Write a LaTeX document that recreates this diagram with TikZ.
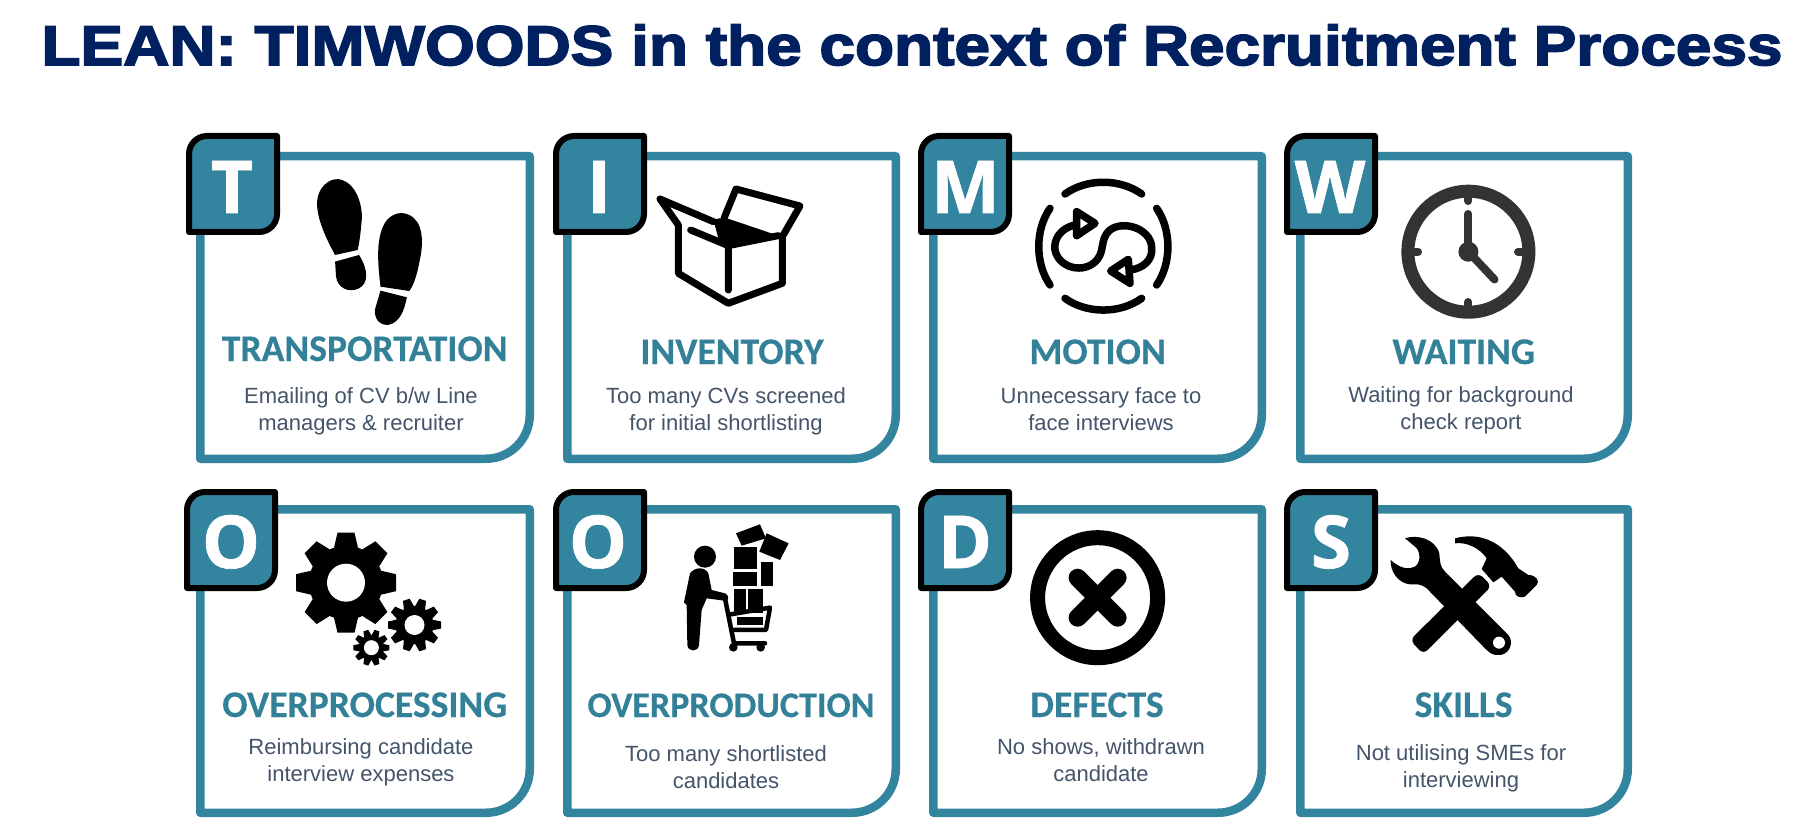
\documentclass[tikz,border=0pt]{standalone}
\usepackage{fontspec}
\setmainfont{Liberation Sans}
\newfontfamily\titlefont[FakeStretch=1.142,FakeBold=3]{Liberation Sans}
\newfontfamily\headfont[FakeBold=0.4]{Carlito}
\newfontfamily\letterfont[FakeBold=1]{Open Sans}
\definecolor{teal1}{HTML}{33849F}
\definecolor{headc}{HTML}{338199}
\definecolor{descc}{HTML}{44546A}
\definecolor{navy}{HTML}{002060}
\definecolor{clockc}{HTML}{333333}
\tikzset{
  cardline/.style={draw=teal1,line width=8.5pt,fill=white,line join=round},
  badgebox/.style={draw=black,line width=6pt,fill=teal1,line join=round},
  letterlab/.style={anchor=base,text=white,inner sep=0pt,font=\letterfont\bfseries\fontsize{73}{73}\selectfont},
  headlab/.style={anchor=base,text=headc,inner sep=0pt,font=\headfont\bfseries\fontsize{37.6}{37.6}\selectfont},
  desclab/.style={anchor=base,text=descc,inner sep=0pt,align=center,font=\fontsize{22}{27}\selectfont},
  ink/.style={fill=black,draw=none},
  inkline/.style={draw=black,line cap=round,line join=round,fill=none},
  zoomA/.style={shift={(170,120)},xscale=0.4785,yscale=0.3333},
  zoomU/.style={scale=0.3333},
}
% #1 left, #2 top, #3 right, #4 bottom (outer edges of the card), #5 badge left, #6 badge top
\newcommand\cardframe[6]{%
  \draw[cardline] (#1+4.25,#2+4.25) -- (#3-4.25,#2+4.25) -- (#3-4.25,#4-48) arc[start angle=0,end angle=90,radius=43.75] -- (#1+4.25,#4-4.25) -- cycle;
  \draw[badgebox] (#5+3,#6+21) arc[start angle=180,end angle=270,radius=18] -- (#5+91,#6+3) -- (#5+91,#6+81) arc[start angle=0,end angle=90,radius=18] -- (#5+3,#6+99) -- cycle;
}
% gear: cx, cy, root radius, outer radius, hole, teeth, tooth half width at tip, at root
\newcommand\gearicon[8]{%
  \fill[black] (#1,#2) circle[radius=#3];
  \pgfmathsetmacro\gstep{360/#6}
  \foreach \k in {1,...,#6}{
    \fill[black,shift={(#1,#2)},rotate=\k*\gstep] (#3-2,-#8) -- (#4,-#7) -- (#4,#7) -- (#3-2,#8) -- cycle;
  }
  \fill[white] (#1,#2) circle[radius=#5];
}
\begin{document}
\begin{tikzpicture}[x=1pt,y=-1pt]
\useasboundingbox (0,0) rectangle (1813,837);
\fill[white] (0,0) rectangle (1813,837);

\node[anchor=base,inner sep=0pt,text=navy] (title) at (912,65)
  {\titlefont\bfseries\fontsize{56}{56}\selectfont LEAN: TIMWOODS in the context of Recruitment Process};

% row 1
\cardframe{196}{152}{534}{463}{186}{133}
\cardframe{563}{152}{900}{463}{553}{133}
\cardframe{929}{152}{1266}{463}{918}{133}
\cardframe{1296}{152}{1632}{463}{1284}{133}
% row 2
\cardframe{196}{505}{534}{817}{184}{489}
\cardframe{563}{505}{900}{817}{553}{489}
\cardframe{929}{505}{1266}{817}{918}{489}
\cardframe{1296}{505}{1632}{817}{1284}{489}

% letters
\node[letterlab] (lt) at (232,213) {T};
\node[letterlab] (li) at (599,213) {I};
\node[letterlab] (lm) at (965.5,213) {M};
\node[letterlab] (lw) at (1330,213) {W};
\node[letterlab] (lo) at (231,568) {O};
\node[letterlab] (lp) at (598,568) {O};
\node[letterlab] (ld) at (965,568) {D};
\node[letterlab] (ls) at (1331,568) {S};

% headings
\node[headlab] (ht) at (364.7,361) {TRANSPORTATION};
\node[headlab] (hi) at (732,364) {INVENTORY};
\node[headlab] (hm) at (1097.6,364) {MOTION};
\node[headlab] (hw) at (1463.6,364) {WAITING};
\node[headlab] (ho) at (364.7,717) {OVERPROCESSING};
\node[headlab,font=\headfont\bfseries\fontsize{36}{36}\selectfont] (hp) at (731,717) {OVERPRODUCTION};
\node[headlab] (hd) at (1097,717) {DEFECTS};
\node[headlab] (hs) at (1463.6,717) {SKILLS};

% descriptions (the point given is the baseline of the last line)
\node[desclab] (dt) at (361,430) {Emailing of CV b/w Line\\managers \& recruiter};
\node[desclab] (di) at (726,430) {Too many CVs screened\\for initial shortlisting};
\node[desclab] (dm) at (1101,430) {Unnecessary face to\\face interviews};
\node[desclab] (dw) at (1461,429) {Waiting for background\\check report};
\node[desclab] (do) at (361,781) {Reimbursing candidate\\interview expenses};
\node[desclab] (dp) at (726,788) {Too many shortlisted\\candidates};
\node[desclab] (dd) at (1101,781) {No shows, withdrawn\\candidate};
\node[desclab] (ds) at (1461,787) {Not utilising SMEs for\\interviewing};

% footprints
\begin{scope}[zoomA]
  \fill[ink] (345,405) .. controls (320,340) and (300,270) .. (310,225) .. controls (318,190) and (340,170) .. (360,180) .. controls (390,195) and (405,260) .. (400,310) .. controls (398,345) and (395,375) .. (392,390) -- cycle;
  \fill[ink] (345,425) -- (395,405) .. controls (415,450) and (415,490) .. (395,505) .. controls (375,520) and (350,505) .. (347,470) -- cycle;
  \fill[ink] (440,500) .. controls (435,440) and (430,370) .. (445,320) .. controls (455,285) and (480,270) .. (500,285) .. controls (530,305) and (530,370) .. (522,420) .. controls (517,460) and (510,495) .. (500,513) -- cycle;
  \fill[ink] (440,512) -- (495,532) .. controls (490,570) and (480,610) .. (455,615) .. controls (430,615) and (425,580) .. (430,560) -- cycle;
\end{scope}

% box
\begin{scope}[shift={(650,175)},zoomU]
  \fill[ink] (190,133) -- (225,128) -- (385,182) -- (235,214) -- (205,190) -- cycle;
  \draw[inkline,line width=7pt] (190,140) -- (30,72) -- (85,150) -- (85,295) -- (235,385) -- (397,325) -- (397,185) -- (450,93) -- (258,42) -- (222,130);
  \draw[inkline,line width=7pt] (122,165) -- (235,212) -- (235,345);
  \draw[inkline,line width=7pt] (235,212) -- (385,182);
\end{scope}

% motion
\begin{scope}[shift={(1020,170)},zoomU]
  \begin{scope}[inkline,line width=7.5pt]
  \draw (135,72) .. controls (200,25) and (300,25) .. (365,72);
  \draw (135,385) .. controls (200,432) and (300,432) .. (365,385);
  \draw (90,115) .. controls (45,180) and (45,280) .. (90,345);
  \draw (410,115) .. controls (455,180) and (455,280) .. (410,345);
  \draw (165,165) .. controls (120,175) and (100,210) .. (105,240) .. controls (115,290) and (180,310) .. (220,280) .. controls (260,250) and (235,210) .. (270,180) .. controls (310,150) and (390,175) .. (395,230) .. controls (400,270) and (370,295) .. (330,300);
  \draw (170,125) -- (225,160) -- (170,197) -- cycle;
  \draw (325,268) -- (272,303) -- (330,340) -- cycle;
  \end{scope}
\end{scope}

% clock
\draw[clockc,line width=13pt] (1468.4,251.7) circle[radius=60.5];
\fill[clockc] (1468.4,251.7) circle[radius=10];
\draw[clockc,line width=8pt,line cap=round] (1468.4,251.7) -- (1468.4,214);
\draw[clockc,line width=8pt,line cap=round] (1468.4,251.7) -- (1494.5,279.5);
\draw[clockc,line width=8pt,line cap=round] (1468.4,197) -- (1468.4,201);
\draw[clockc,line width=8pt,line cap=round] (1468.4,306) -- (1468.4,302);
\draw[clockc,line width=8pt,line cap=round] (1414,251.7) -- (1418,251.7);
\draw[clockc,line width=8pt,line cap=round] (1522,251.7) -- (1518,251.7);

% gears
\gearicon{346}{582.7}{37}{50}{19}{8}{8.5}{12}
\gearicon{414.5}{625}{19}{26.5}{10}{10}{3.5}{5.5}
\gearicon{371.4}{647.7}{12.5}{18}{7.5}{10}{2.5}{4}

% shopper
\begin{scope}[shift={(660,515)},zoomU]
  \fill[ink] (135,125) circle[radius=33];
  \fill[ink] (90,175) .. controls (105,155) and (135,155) .. (145,175) -- (155,225) -- (195,235) .. controls (205,240) and (208,250) .. (200,258) -- (140,250) -- (125,285) -- (117,390) .. controls (115,412) and (84,412) .. (82,390) -- (80,270) -- (72,262) -- cycle;
  \fill[ink] (222,97) rectangle (292,163);
  \fill[ink] (220,172) rectangle (292,213);
  \fill[ink] (302,142) rectangle (340,213);
  \fill[ink] (222,222) rectangle (258,295);
  \fill[ink] (265,222) rectangle (308,295);
  \fill[ink] (228,55) -- (300,28) -- (318,70) -- (245,92) -- cycle;
  \fill[ink] (320,55) -- (386,85) -- (360,135) -- (298,110) -- cycle;
  \fill[ink] (232,305) rectangle (310,330);
  \draw[inkline,line width=4.5pt] (195,250) -- (222,385) -- (315,385);
  \draw[inkline,line width=4.5pt] (212,298) -- (330,278) -- (318,345) -- (222,345);
  \fill[ink] (220,397) circle[radius=13];
  \fill[ink] (302,397) circle[radius=13];
\end{scope}

% x circle
\draw[black,line width=15pt] (1097.6,597.7) circle[radius=60];
\draw[black,line width=18pt,line cap=round] (1077.6,577.7) -- (1117.6,617.7);
\draw[black,line width=18pt,line cap=round] (1117.6,577.7) -- (1077.6,617.7);

% tools
\begin{scope}[shift={(1380,525)},zoomU]
  \fill[ink,rounded corners=6pt] (90,345) -- (295,143) -- (335,183) -- (130,388) -- cycle;
  \fill[ink] (75,40) .. controls (110,28) and (165,40) .. (178,85) .. controls (180,110) and (180,125) .. (195,140) -- (385,330) .. controls (405,355) and (385,395) .. (350,390) .. controls (335,390) and (325,380) .. (315,370) -- (140,190) .. controls (120,175) and (110,178) .. (90,178) .. controls (55,175) and (30,140) .. (32,105) .. controls (60,130) and (85,135) .. (105,125) .. controls (125,110) and (120,75) .. (105,65) -- cycle;
  \fill[white] (357,353) circle[radius=18];
  \fill[ink] (225,40) .. controls (300,20) and (370,50) .. (415,130) -- (445,150) .. controls (470,150) and (480,170) .. (470,180) -- (435,215) .. controls (420,220) and (405,215) .. (405,200) -- (365,155) -- (340,172) -- (305,132) -- (320,100) .. controls (300,70) and (260,50) .. (225,55) -- cycle;
\end{scope}
\end{tikzpicture}
\end{document}
